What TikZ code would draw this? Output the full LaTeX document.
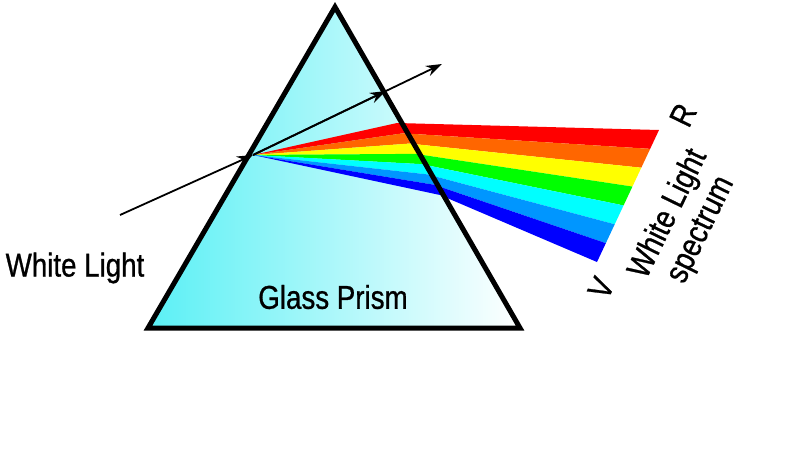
\documentclass[tikz,border=0pt]{standalone}
\usepackage{fontspec}
\setmainfont{Liberation Sans}[FakeStretch=0.84,FakeBold=0.8]
\usetikzlibrary{calc,arrows.meta}
\definecolor{cR}{RGB}{255,0,0}
\definecolor{cO}{RGB}{255,102,0}
\definecolor{cY}{RGB}{255,255,0}
\definecolor{cG}{RGB}{0,255,0}
\definecolor{cC}{RGB}{0,255,255}
\definecolor{cA}{RGB}{0,150,255}
\definecolor{cB}{RGB}{0,0,255}
\definecolor{glass}{RGB}{90,240,245}
\tikzset{ray/.style={line width=1.8pt,-{Stealth[length=16pt,width=11pt]}},
 lbl/.style={font=\fontsize{33}{36}\selectfont,inner sep=1pt}}
\begin{document}
\begin{tikzpicture}[x=1pt,y=-1pt]
\useasboundingbox (0,0) rectangle (794,463);
\coordinate (A) at (335,7);
\coordinate (BL) at (148,328);
\coordinate (BR) at (520,328);
\fill[left color=glass,right color=white] (A) -- (BR) -- (BL) -- cycle;
\coordinate (O) at (253,155);
\coordinate (P0) at (397,123);
\coordinate (P7) at (440,195);
\coordinate (Q0) at (659,130);
\coordinate (Q7) at (597,262);
\foreach \c [count=\i from 0] in {cR,cO,cY,cG,cC,cA,cB}{
  \pgfmathsetmacro{\a}{\i/7}
  \pgfmathsetmacro{\b}{(\i+1)/7}
  \fill[\c] (O) -- ($(P0)!\a!(P7)$) -- ($(Q0)!\a!(Q7)$) -- ($(Q0)!\b!(Q7)$) -- ($(P0)!\b!(P7)$) -- cycle;
}
\draw[line width=5pt,line join=miter] (A) -- (BR) -- (BL) -- cycle;
\coordinate (S) at (120,215);
\coordinate (M) at (386,91);
\coordinate (E) at (442,64);
\draw[ray] (S) -- (O);
\draw[ray] (O) -- (M);
\draw[ray] (O) -- (E);
\node[lbl] (wl) at (75,268) {White Light};
\node[lbl] (gp) at (333,297) {Glass Prism};
\node[lbl,rotate=64] (r) at (683,115) {R};
\node[lbl,rotate=64] (v) at (601,288) {V};
\node[lbl,rotate=64,align=center] (ws) at (685,222) {White Light\\spectrum};
\end{tikzpicture}
\end{document}
